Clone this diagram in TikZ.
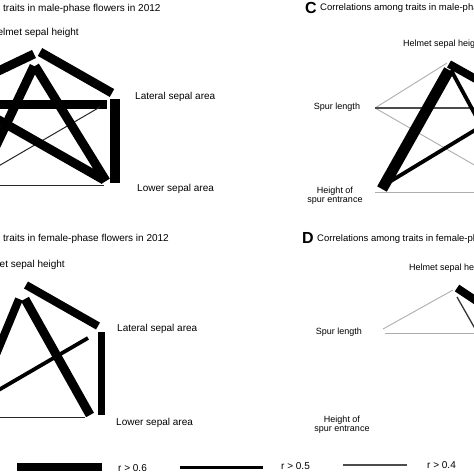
\documentclass[tikz,border=0pt]{standalone}
\usepackage{fontspec}
\setmainfont{Liberation Sans}

\begin{document}
\begin{tikzpicture}[x=1pt, y=-1pt,
  txt/.style={inner sep=0pt, font=\fontsize{10}{12}\selectfont},
  ctxt/.style={inner sep=0pt, font=\fontsize{9}{10}\selectfont},
  ttl/.style={inner sep=0pt, font=\fontsize{9.5}{11}\selectfont},
  letter/.style={inner sep=0pt, font=\fontsize{16}{16}\selectfont\bfseries},
  big/.style={line width=9pt},
  strong/.style={line width=8pt},
  heavy/.style={line width=11pt},
  mid/.style={line width=3.8pt},
  weak/.style={line width=1.8pt, draw=black!70},
  thin/.style={line width=1pt, draw=black!85},
  faint/.style={line width=0.9pt, draw=black!32}
]
\useasboundingbox (0,0) rectangle (474,474);
\clip (0,0) rectangle (474,474);

% A: male-phase flowers
\node[txt, anchor=west] (tA) at (3,9) {traits in male-phase flowers in 2012};
\node[txt, anchor=east] (helA) at (79,33) {Helmet sepal height};
\node[txt, anchor=west] (latA) at (135,97) {Lateral sepal area};
\node[txt, anchor=west] (lowA) at (137,189) {Lower sepal area};

\coordinate (Ahs) at (34,54);   \coordinate (Ash) at (-10,75);
\coordinate (Ahl) at (40,52);   \coordinate (Alh) at (112,93);
\coordinate (Asl) at (-10,104); \coordinate (Als) at (107,104);
\coordinate (Alw) at (115,99);  \coordinate (Awl) at (115,183);
\coordinate (Ale) at (100,107); \coordinate (Ael) at (-10,171);
\coordinate (Ahe) at (34,66);   \coordinate (Aeh) at (-5,148);
\coordinate (Asw) at (-10,115); \coordinate (Aws) at (104,180);
\coordinate (Ahw) at (35,66);   \coordinate (Awh) at (106,181);
\coordinate (Aew) at (-10,185); \coordinate (Awe) at (104,185);

\draw[big] (Ahs) -- (Ash);
\draw[big] (Ahl) -- (Alh);
\draw[big] (Asl) -- (Als);
\draw[line width=10pt] (Alw) -- (Awl);
\draw[thin] (Ale) -- (Ael);
\draw[big] (Ahe) -- (Aeh);
\draw[big] (Asw) -- (Aws);
\draw[big] (Ahw) -- (Awh);
\draw[thin] (Aew) -- (Awe);

% B: female-phase flowers
\node[txt, anchor=east] (tB) at (169,239) {traits in female-phase flowers in 2012};
\node[txt, anchor=east] (helB) at (65,265) {Helmet sepal height};
\node[txt, anchor=west] (latB) at (117,329) {Lateral sepal area};
\node[txt, anchor=west] (lowB) at (116,423) {Lower sepal area};

\coordinate (Bhl) at (26,285);  \coordinate (Blh) at (98,326);
\coordinate (Bhe) at (19,299);  \coordinate (Beh) at (-5,357);
\coordinate (Bhw) at (25,299);  \coordinate (Bwh) at (90,415);
\coordinate (Blw) at (101,332); \coordinate (Bwl) at (101,415);
\coordinate (Ble) at (88,338);  \coordinate (Bel) at (-10,395);
\coordinate (Bew) at (-10,417); \coordinate (Bwe) at (85,417);

\draw[strong] (Bhl) -- (Blh);
\draw[strong] (Bhe) -- (Beh);
\draw[big] (Bhw) -- (Bwh);
\draw[line width=7pt] (Blw) -- (Bwl);
\draw[mid] (Ble) -- (Bel);
\draw[thin] (Bew) -- (Bwe);

% C: male-phase, spur traits
\node[letter, anchor=west] (lC) at (305,8) {C};
\node[ttl, anchor=west] (tC) at (320,8) {Correlations among traits in male-phase flowers in 2012};
\node[ctxt, anchor=west] (helC) at (403,44) {Helmet sepal height};
\node[ctxt] (spuC) at (337,107) {Spur length};
\node[ctxt, align=center, font=\fontsize{9}{7}\selectfont] (entC) at (335,195.5) {Height of\\spur entrance};

\coordinate (Chl) at (449,64);  \coordinate (Clh) at (490,87);
\coordinate (Chs) at (447,63);  \coordinate (Csh) at (375,108);
\coordinate (Csl) at (375,108); \coordinate (Cls) at (490,108);
\coordinate (Csw) at (375,108); \coordinate (Cws) at (490,174);
\coordinate (Che) at (449,70);  \coordinate (Ceh) at (382,189);
\coordinate (Chw) at (451,70);  \coordinate (Cwh) at (490,142);
\coordinate (Cel) at (386,184); \coordinate (Cle) at (490,121);
\coordinate (Cew) at (375,192); \coordinate (Cwe) at (490,192);

\draw[faint] (Chs) -- (Csh);
\draw[faint] (Csw) -- (Cws);
\draw[faint] (Cew) -- (Cwe);
\draw[weak] (Csl) -- (Cls);
\draw[strong] (Chl) -- (Clh);
\draw[heavy] (Che) -- (Ceh);
\draw[mid] (Chw) -- (Cwh);
\draw[mid] (Cel) -- (Cle);

% D: female-phase, spur traits
\node[letter, anchor=west] (lD) at (302,238) {D};
\node[ttl, anchor=west] (tD) at (317,239) {Correlations among traits in female-phase flowers in 2012};
\node[ctxt, anchor=west] (helD) at (409,268) {Helmet sepal height};
\node[ctxt] (spuD) at (339,332) {Spur length};
\node[ctxt, align=center, font=\fontsize{9}{7}\selectfont] (entD) at (342,424.5) {Height of\\spur entrance};

\coordinate (Dhl) at (457,288); \coordinate (Dlh) at (490,310);
\coordinate (Dhw) at (457,297); \coordinate (Dwh) at (490,355);
\coordinate (Dhs) at (453,290); \coordinate (Dsh) at (383,329);
\coordinate (Dsl) at (385,333); \coordinate (Dls) at (490,333);

\draw[faint] (Dhs) -- (Dsh);
\draw[faint] (Dsl) -- (Dls);
\draw[line width=1.3pt, draw=black!80] (Dhw) -- (Dwh);
\draw[strong] (Dhl) -- (Dlh);

% Legend
\coordinate (g6a) at (17,467);  \coordinate (g6b) at (102,467);
\coordinate (g5a) at (180,467.5); \coordinate (g5b) at (263,467.5);
\coordinate (g4a) at (343,465); \coordinate (g4b) at (407,465);
\draw[strong] (g6a) -- (g6b);
\draw[mid] (g5a) -- (g5b);
\draw[weak] (g4a) -- (g4b);
\node[txt, anchor=west] (k6) at (118,468) {r > 0.6};
\node[txt, anchor=west] (k5) at (281,466) {r > 0.5};
\node[txt, anchor=west] (k4) at (427,465) {r > 0.4};
\end{tikzpicture}
\end{document}
